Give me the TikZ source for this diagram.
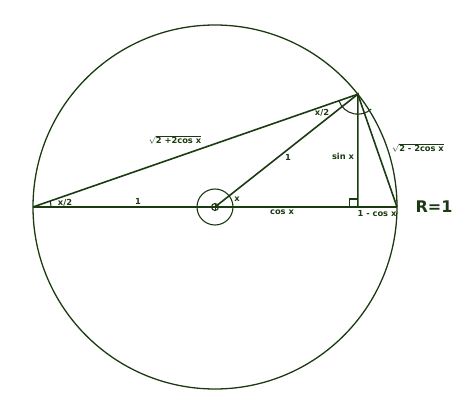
\documentclass[tikz,border=0pt]{standalone}
\usepackage{fontspec}
\setsansfont{DejaVu Sans}
\usetikzlibrary{calc}
\definecolor{dkgreen}{RGB}{28,58,18}
\begin{document}
\begin{tikzpicture}[x=1pt, y=1pt, color=dkgreen, line width=1.6pt,
	lbl/.style={font=\sffamily\bfseries\fontsize{8.3}{10}\selectfont, inner sep=0pt},
	angmark/.style={line width=1.1pt}]
	\useasboundingbox (-215,-208) rectangle (259,207);
	\coordinate (O) at (0,0);
	\coordinate (A) at (180:182);
	\coordinate (B) at (0:182);
	\coordinate (P) at (38.3:182);
	\coordinate (F) at (P |- O);

	% circle and triangles
	\draw[line width=1.3pt] (O) circle (182);
	\draw (A) -- (B);
	\draw (A) -- (P) -- (B);
	\draw (O) -- (P) -- (F);

	% angle marks
	\draw[angmark] ($(A)+(18,0)$) arc[start angle=0, end angle=19.15, radius=18];
	\draw[angmark] ($(P)+(199.15:20)$) arc[start angle=199.15, end angle=312, radius=20];
	\draw[angmark] (O) circle (18);
	\draw[angmark] (O) circle (3.5);
	\draw[line width=0.9pt] (-3.5,0) -- (3.5,0) (0,-3.5) -- (0,3.5);
	\draw[angmark] ($(F)+(-8,0)$) |- ($(F)+(0,8)$);

	% labels
	\node[lbl] (chordL) at (-40,67) {$\sqrt{\mbox{2 +2cos x}}$};
	\node[lbl] (chordR) at (203,59) {$\sqrt{\mbox{2 - 2cos x}}$};
	\node[lbl] (halfA) at (-150,4) {x/2};
	\node[lbl] (halfP) at (107,94) {x/2};
	\node[lbl] (oneL) at (-77,6) {1};
	\node[lbl] (oneR) at (73,50) {1};
	\node[lbl] (angx) at (22,8) {x};
	\node[lbl] (cosx) at (67,-5) {cos x};
	\node[lbl] (sinx) at (128,51) {sin x};
	\node[lbl] (omc) at (162,-7) {1 - cos x};
	\node[font=\sffamily\bfseries\fontsize{16}{18}\selectfont, inner sep=0pt] (rad) at (219,0) {R=1};
\end{tikzpicture}
\end{document}
